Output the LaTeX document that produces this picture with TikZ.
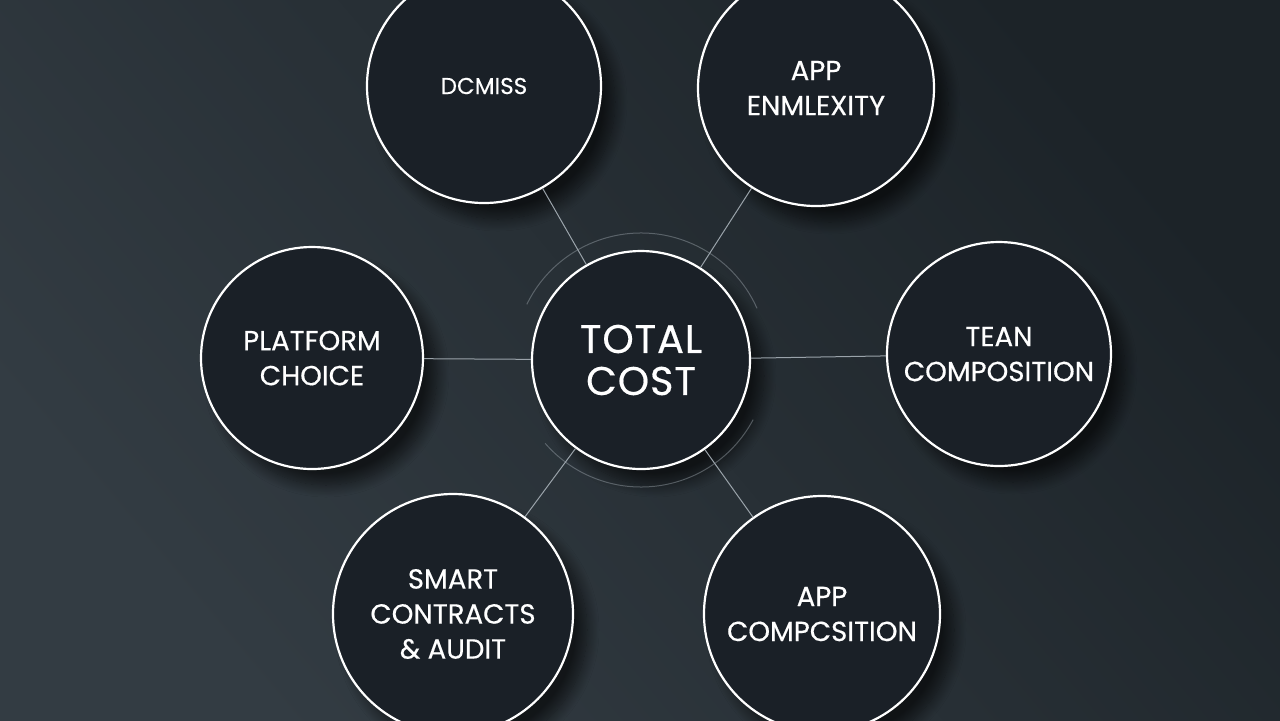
\documentclass[tikz,border=0pt]{standalone}
\usepackage{fontspec}
\setmainfont{Poppins}
\usetikzlibrary{shadows.blur}
\definecolor{bgA}{HTML}{333C43}
\definecolor{bgB}{HTML}{1C2328}
\definecolor{disk}{HTML}{1A2027}
\definecolor{linec}{HTML}{9AA3AA}
\tikzset{
  bubble/.style={circle, draw=white, line width=1.1pt, fill=disk, text=white,
    align=center, inner sep=0pt, font=\fontsize{13.8}{17.5}\selectfont\addfontfeature{FakeBold=0.4},
    blur shadow={shadow xshift=7pt, shadow yshift=-8pt, shadow blur steps=16, shadow blur radius=6pt, shadow opacity=60}},
  small/.style={font=\fontsize{11.5}{14}\selectfont\addfontfeature{FakeBold=0.4}},
  hub/.style={bubble, font=\fontsize{20}{21}\selectfont\addfontfeature{LetterSpace=2,FakeBold=0.4}},
  link/.style={draw=linec, line width=0.5pt},
  ring/.style={draw=linec, line width=0.5pt, opacity=0.45}
}
\begin{document}
\begin{tikzpicture}[x=0.5pt, y=-0.5pt]
  \useasboundingbox (0,0) rectangle (1280,720);
  \shade[left color=bgA, right color=bgB, shading angle=130] (0,0) rectangle (1280,720);
  \begin{scope}
  \clip (0,0) rectangle (1280,720);
  \node[hub, minimum size=109pt] (c) at (641,360) {TOTAL\\COST};
  \node[bubble, small, minimum size=117pt] (tl) at (484,86) {DCMISS};
  \node[bubble, minimum size=118pt] (tr) at (816,88) {APP\\ENMLEXITY};
  \node[bubble, minimum size=111pt, text depth=-3pt] (l) at (312,358) {PLATFORM\\CHOICE};
  \node[bubble, minimum size=112pt, text depth=-3pt] (r) at (999,354) {TEAN\\COMPOSITION};
  \node[bubble, minimum size=120pt] (bl) at (453,614) {SMART\\CONTRACTS\\\& AUDIT};
  \node[bubble, minimum size=118pt] (br) at (822,614) {APP\\COMPCSITION};
  \draw[ring] (641,360) ++(28:127) arc[start angle=28, end angle=139, radius=127];
  \draw[ring] (641,360) ++(206:127) arc[start angle=206, end angle=336, radius=127];
  \draw[link] (c) -- (tl);
  \draw[link] (c) -- (tr);
  \draw[link] (c) -- (l);
  \draw[link] (c) -- (r);
  \draw[link] (c) -- (bl);
  \draw[link] (c) -- (br);
  \end{scope}
\end{tikzpicture}
\end{document}
